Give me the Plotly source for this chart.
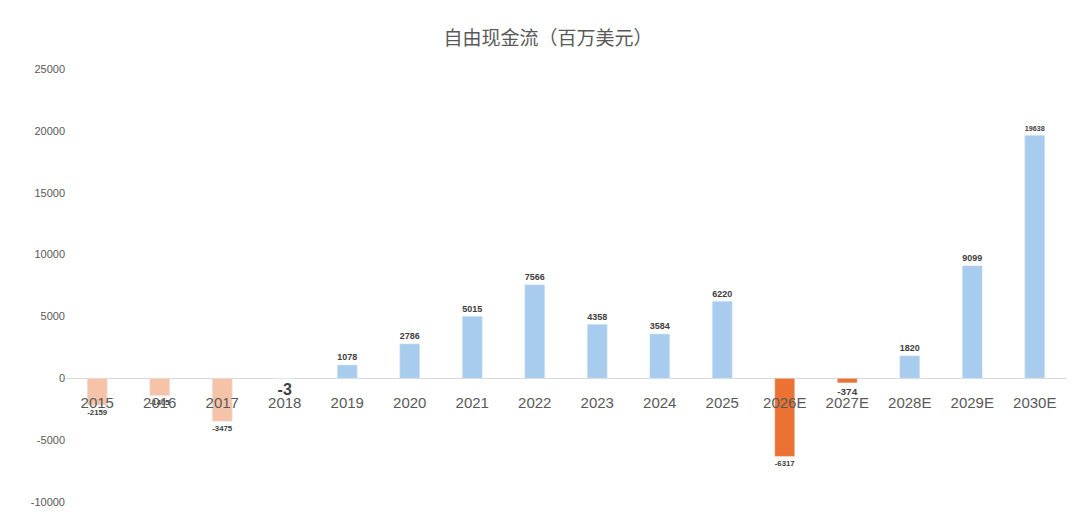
import plotly.graph_objects as go

years = ["2015","2016","2017","2018","2019","2020","2021","2022","2023","2024","2025",
         "2026E","2027E","2028E","2029E","2030E"]
fcf = [-2159,-1405,-3475,-3,1078,2786,5015,7566,4358,3584,6220,-6317,-374,1820,9099,19638]
ytick_vals = [-10000,-5000,0,5000,10000,15000,20000,25000]
ytick_text = ["-10000","-5000","0","5000","10000","15000","20000","25000"]

def color(y, v):
    if v >= 0:
        return "#A8CCEE"
    return "#EB7232" if y.endswith("E") else "#F5C4A8"

colors = [color(y, v) for y, v in zip(years, fcf)]

fig = go.Figure(go.Bar(
    x=years, y=fcf, marker_color=colors, width=0.32,
    text=[str(v) for v in fcf], textposition="outside", cliponaxis=False,
    textfont=dict(family="Liberation Sans, Arial", size=16, color="#404040", weight="bold"),
))
fig.update_layout(
    width=1080, height=522, plot_bgcolor="white", paper_bgcolor="white",
    margin=dict(l=58, r=22, t=61, b=28),
    title=dict(text="自由现金流（百万美元）", x=0.5, xanchor="center", y=0.955,
               font=dict(family="Noto Sans CJK SC", size=19, color="#595959")),
    showlegend=False,
    xaxis=dict(anchor="free", position=0.255, showline=False, ticks="",
               tickfont=dict(family="Liberation Sans, Arial", size=15, color="#595959")),
    yaxis=dict(range=[-10000, 25000], tickvals=ytick_vals, ticktext=ytick_text, showgrid=False,
               zeroline=True, zerolinecolor="#D9D9D9", zerolinewidth=1,
               tickfont=dict(family="Liberation Sans, Arial", size=11, color="#595959")),
)
fig.write_html("out.html")
